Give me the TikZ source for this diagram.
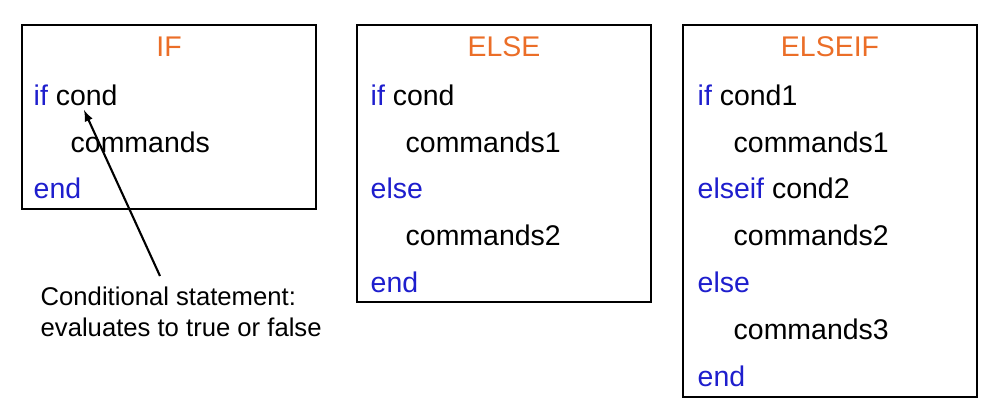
\documentclass[tikz,border=0pt]{standalone}
\usepackage{fontspec}
\setmainfont{Liberation Sans}
\definecolor{kwblue}{RGB}{30,30,205}
\definecolor{titleorange}{RGB}{235,110,40}

\begin{document}
\begin{tikzpicture}[x=0.02cm, y=-0.02cm, thick,
        box/.style = {draw=black, line width=1.6pt},
        code/.style = {anchor=west, inner sep=0pt, font=\fontsize{16.2}{19}\selectfont},
        kw/.style = {code, text=kwblue},
        title/.style = {inner sep=0pt, text=titleorange, font=\fontsize{16.2}{19}\selectfont}]
    \useasboundingbox (0,0) rectangle (990,405);

    % IF
    \draw[box] (22,25) rectangle (316,209);
    \node[title] (tif) at (169,47) {IF};
    \node[code] (if1) at (33,95) {\textcolor{kwblue}{if} cond};
    \node[code] (cmd1) at (70,142) {commands};
    \node[kw] (end1) at (33,188) {end};

    % ELSE
    \draw[box] (357,25) rectangle (651,302);
    \node[title] (telse) at (504,47) {ELSE};
    \node[code] (if2) at (370,95) {\textcolor{kwblue}{if} cond};
    \node[code] (cmd21) at (405,142) {commands1};
    \node[kw] (else2) at (370,188) {else};
    \node[code] (cmd22) at (405,235) {commands2};
    \node[kw] (end2) at (370,282) {end};

    % ELSEIF
    \draw[box] (683,25) rectangle (977,397);
    \node[title] (telseif) at (830,47) {ELSEIF};
    \node[code] (if3) at (697,95) {\textcolor{kwblue}{if} cond1};
    \node[code] (cmd31) at (733,142) {commands1};
    \node[code] (elif3) at (697,188) {\textcolor{kwblue}{elseif} cond2};
    \node[code] (cmd32) at (733,235) {commands2};
    \node[kw] (else3) at (697,282) {else};
    \node[code] (cmd33) at (733,329) {commands3};
    \node[kw] (end3) at (697,376) {end};

    % note
    \node[code, align=left, anchor=north west, font=\fontsize{14.6}{17.5}\selectfont] (note) at (40,286)
        {Conditional statement:\\evaluates to true or false};
    \coordinate (tail) at (160,276);
    \coordinate (head) at (84,110);
    \draw[-latex, line width=1.2pt] (tail) -- (head);
\end{tikzpicture}
\end{document}
